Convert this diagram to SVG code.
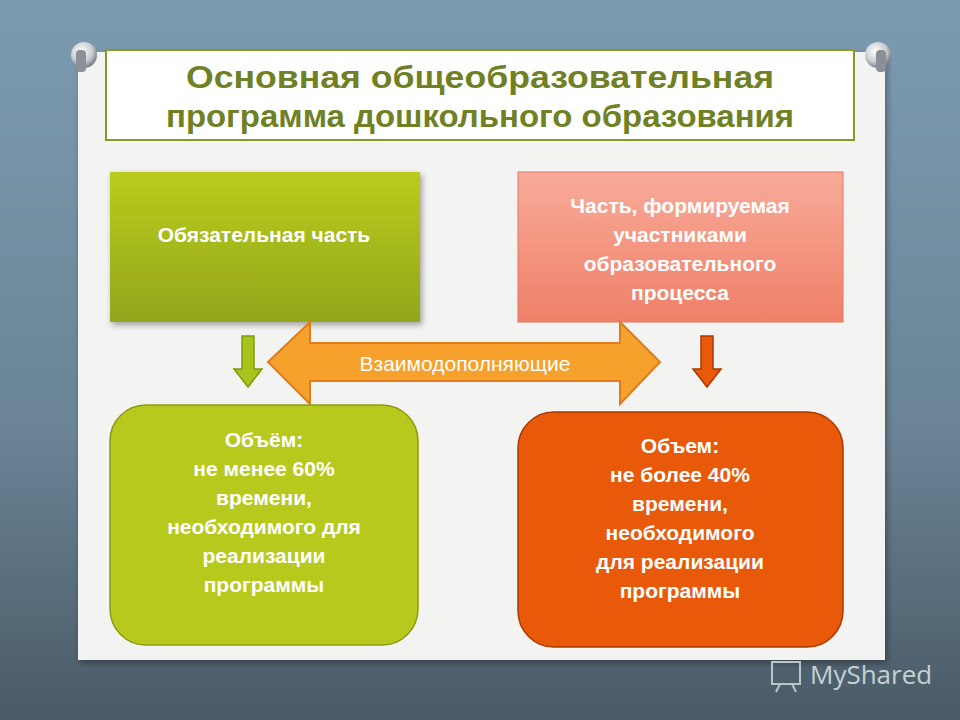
<svg xmlns="http://www.w3.org/2000/svg" width="960" height="720" viewBox="0 0 960 720">
<defs>
<linearGradient id="bg" x1="0" y1="0" x2="0" y2="1"><stop offset="0" stop-color="#7c9bb0"/><stop offset="0.6" stop-color="#6a8496"/><stop offset="1" stop-color="#4a5a66"/></linearGradient>
<linearGradient id="gr" x1="0" y1="0" x2="0" y2="1"><stop offset="0" stop-color="#b9cc1a"/><stop offset="1" stop-color="#93a61c"/></linearGradient>
<linearGradient id="sal" x1="0" y1="0" x2="0" y2="1"><stop offset="0" stop-color="#f8ab9a"/><stop offset="1" stop-color="#ef8068"/></linearGradient>
<radialGradient id="pin" cx="0.4" cy="0.35" r="0.7"><stop offset="0" stop-color="#ffffff"/><stop offset="0.6" stop-color="#c8ccd0"/><stop offset="1" stop-color="#6a7078"/></radialGradient>
<filter id="sh" x="-10%" y="-10%" width="120%" height="120%"><feDropShadow dx="2" dy="3" stdDeviation="3" flood-color="#000" flood-opacity="0.35"/></filter>
</defs>
<style>
.t{font-family:"Liberation Sans",Arial,sans-serif;font-weight:bold;fill:#fff;font-size:21px;text-anchor:middle}
.h{font-family:"Liberation Sans",Arial,sans-serif;font-weight:bold;fill:#6f8124;font-size:32px;text-anchor:middle}
</style>
<rect width="960" height="720" fill="url(#bg)"/>
<rect x="78" y="52" width="807" height="608" fill="#f3f3f1" filter="url(#sh)"/>
<g><circle cx="84" cy="55" r="13" fill="url(#pin)"/><rect x="76" y="50" width="10" height="22" rx="4" fill="#8a9096"/><circle cx="878" cy="55" r="13" fill="url(#pin)"/><rect x="876" y="50" width="10" height="22" rx="4" fill="#8a9096"/></g>
<g id="title"><rect x="106" y="50" width="748" height="90" fill="#fff" stroke="#8a9a2a" stroke-width="2"/>
<text class="h" x="480" y="88" textLength="588" lengthAdjust="spacingAndGlyphs">Основная общеобразовательная</text><text class="h" x="480" y="127" textLength="628" lengthAdjust="spacingAndGlyphs">программа дошкольного образования</text></g>
<g id="mandatory"><rect x="110" y="172" width="310" height="150" fill="url(#gr)" filter="url(#sh)"/><text class="t" x="264" y="242">Обязательная часть</text></g>
<g id="formed"><rect x="518" y="172" width="325" height="150" fill="url(#sal)" stroke="#e27660" stroke-width="1"/>
<text class="t" x="680" y="213">Часть, формируемая</text><text class="t" x="680" y="242">участниками</text><text class="t" x="680" y="271">образовательного</text><text class="t" x="680" y="300">процесса</text></g>
<g id="connectors">
<path d="M268 362 L310 322 L310 343 L620 343 L620 322 L660 362 L620 404 L620 381 L310 381 L310 404 Z" fill="#f6a12c" stroke="#e07c1c" stroke-width="2"/>
<text class="t" x="465" y="371" style="font-weight:normal">Взаимодополняющие</text>
<path d="M242 336 L254 336 L254 369 L262 369 L248 387 L234 369 L242 369 Z" fill="#a8c41a" stroke="#7e9a10" stroke-width="1.5"/>
<path d="M701 336 L713 336 L713 369 L721 369 L707 387 L693 369 L701 369 Z" fill="#e85a0a" stroke="#a83a00" stroke-width="1.5"/>
</g>
<g id="left-vol"><rect x="110" y="405" width="308" height="240" rx="36" fill="#b8c91e" stroke="#8a9a10" stroke-width="1.5"/>
<text class="t" x="264" y="447">Объём:</text><text class="t" x="264" y="476">не менее 60%</text><text class="t" x="264" y="505">времени,</text><text class="t" x="264" y="534">необходимого для</text><text class="t" x="264" y="563">реализации</text><text class="t" x="264" y="592">программы</text></g>
<g id="right-vol"><rect x="518" y="412" width="325" height="235" rx="36" fill="#e85a0a" stroke="#a83a00" stroke-width="1.5"/>
<text class="t" x="680" y="453">Объем:</text><text class="t" x="680" y="482">не более 40%</text><text class="t" x="680" y="511">времени,</text><text class="t" x="680" y="540">необходимого</text><text class="t" x="680" y="569">для реализации</text><text class="t" x="680" y="598">программы</text></g>
<g fill="none" stroke="#b8c8c8" stroke-width="2"><rect x="772" y="662" width="28" height="22"/><line x1="780" y1="684" x2="776" y2="692"/><line x1="792" y1="684" x2="796" y2="692"/></g>
<text x="810" y="684" style="font-family:'Open Sans',sans-serif;font-size:26px;fill:#c4d2d2">MyShared</text>
</svg>
